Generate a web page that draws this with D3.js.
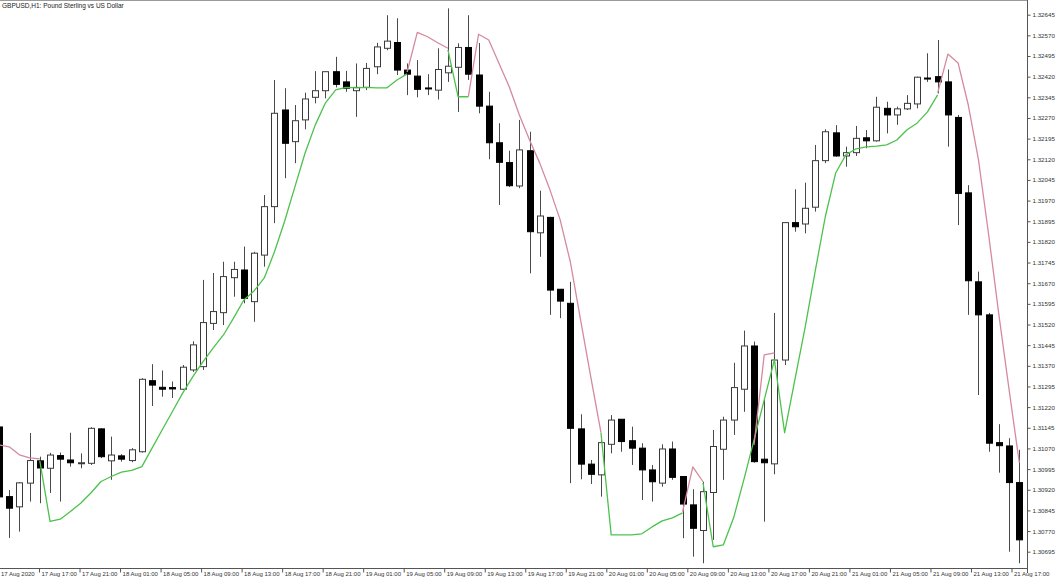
<!DOCTYPE html>
<html>
<head>
<meta charset="utf-8">
<script src="https://cdn.jsdelivr.net/npm/d3@7"></script>
<style>
  html, body { margin: 0; padding: 0; background: #fff; }
  svg { display: block; }
  text { font-family: "Liberation Sans", Arial, sans-serif; }
</style>
</head>
<body>
<svg id="chart" width="1060" height="583"></svg>
<script>
// ---- DATA (GBPUSD H1, 17 Aug 2020 13:00 .. 21 Aug 2020 17:00) ----
const title = "GBPUSD,H1:  Pound Sterling vs US Dollar";

const opens = [
  1.31148,1.30895,1.30858,1.30944,1.31025,1.30998,1.31044,1.31028,1.31016,1.31016,
  1.31141,1.31025,1.31043,1.31026,1.31058,1.31316,1.31292,1.31291,1.31285,1.31355,
  1.31367,1.31524,1.31563,1.31690,1.31718,1.31603,1.31772,1.31948,1.32299,1.32184,
  1.32263,1.32345,1.32369,1.32438,1.32401,1.32369,1.32381,1.32456,1.32523,1.32544,
  1.32444,1.32422,1.32379,1.32371,1.32434,1.32454,1.32526,1.32426,1.32313,1.32180,
  1.32108,1.32023,1.32151,1.31853,1.31909,1.31648,1.31597,1.31141,1.31013,1.30974,
  1.31085,1.31176,1.31098,1.31071,1.30992,1.30944,1.31068,1.30968,1.30865,1.30772,
  1.30910,1.31067,1.31173,1.31285,1.31442,1.31031,1.31014,1.31391,1.31890,1.31885,
  1.31946,1.32115,1.32216,1.32132,1.32144,1.32198,1.32187,1.32305,1.32281,1.32303,
  1.32321,1.32415,1.32420,1.32401,1.32272,1.31998,1.31675,1.31555,1.31091,1.31079,
  1.30946
];
const highs = [
  1.31174,1.30919,1.30948,1.31126,1.31040,1.31054,1.31055,1.31127,1.31052,1.31147,
  1.31143,1.31113,1.31049,1.31071,1.31325,1.31376,1.31353,1.31313,1.31373,1.31459,
  1.31682,1.31707,1.31748,1.31748,1.31803,1.31784,1.31990,1.32408,1.32378,1.32317,
  1.32362,1.32440,1.32440,1.32492,1.32441,1.32468,1.32470,1.32543,1.32643,1.32632,
  1.32468,1.32480,1.32429,1.32523,1.32668,1.32541,1.32643,1.32542,1.32365,1.32251,
  1.32151,1.32263,1.32220,1.32006,1.31911,1.31648,1.31675,1.31194,1.31028,1.31113,
  1.31191,1.31176,1.31149,1.31089,1.31010,1.31085,1.31095,1.30968,1.30922,1.30949,
  1.31137,1.31185,1.31381,1.31498,1.31458,1.31246,1.31562,1.31892,1.32011,1.32035,
  1.32172,1.32229,1.32244,1.32166,1.32241,1.32226,1.32347,1.32329,1.32311,1.32353,
  1.32420,1.32505,1.32553,1.32446,1.32281,1.32026,1.31712,1.31562,1.31158,1.31107,
  1.31065
];
const lows = [
  1.30738,1.30745,1.30768,1.30877,1.30871,1.30908,1.30877,1.31004,1.30998,1.31010,
  1.31035,1.30956,1.31022,1.31020,1.31055,1.31224,1.31258,1.31253,1.31283,1.31348,
  1.31355,1.31500,1.31518,1.31621,1.31597,1.31530,1.31730,1.31888,1.32051,1.32106,
  1.32229,1.32323,1.32341,1.32381,1.32365,1.32274,1.32371,1.32429,1.32516,1.32426,
  1.32353,1.32345,1.32353,1.32337,1.32401,1.32292,1.32408,1.32287,1.32120,1.31954,
  1.32019,1.32015,1.31706,1.31766,1.31555,1.31543,1.30944,1.30958,1.30941,1.30895,
  1.31052,1.31058,1.31010,1.30883,1.30877,1.30931,1.30956,1.30744,1.30677,1.30653,
  1.30738,1.30956,1.31119,1.31203,1.31018,1.30804,1.30976,1.31373,1.31857,1.31851,
  1.31930,1.32106,1.32129,1.32093,1.32132,1.32160,1.32184,1.32214,1.32245,1.32299,
  1.32305,1.32401,1.32359,1.32166,1.31881,1.31555,1.31264,1.31058,1.30982,1.30695,
  1.30653
];
const closes = [
  1.30894,1.30853,1.30945,1.31026,1.30999,1.31046,1.31031,1.31018,1.31018,1.31143,
  1.31040,1.31046,1.31031,1.31065,1.31321,1.31300,1.31285,1.31286,1.31365,1.31446,
  1.31527,1.31567,1.31694,1.31720,1.31615,1.31779,1.31948,1.32287,1.32178,1.32260,
  1.32339,1.32369,1.32438,1.32392,1.32378,1.32381,1.32450,1.32528,1.32549,1.32444,
  1.32429,1.32374,1.32376,1.32446,1.32458,1.32526,1.32429,1.32313,1.32180,1.32109,
  1.32024,1.32154,1.31857,1.31914,1.31645,1.31605,1.31143,1.31013,1.30976,1.31091,
  1.31173,1.31095,1.31071,1.30992,1.30949,1.31068,1.30965,1.30868,1.30780,1.30913,
  1.31077,1.31173,1.31291,1.31442,1.31022,1.31018,1.31391,1.31890,1.31875,1.31942,
  1.32115,1.32220,1.32132,1.32144,1.32196,1.32187,1.32309,1.32281,1.32303,1.32323,
  1.32418,1.32414,1.32401,1.32281,1.31996,1.31679,1.31555,1.31089,1.31080,1.30946,
  1.30738
];

// trend indicator: support (green) and resistance (pink) buffers
const supportLine = [
  null,null,null,null,1.31025,1.30805,1.30813,1.30841,1.30871,1.30908,
  1.30950,1.30968,1.30984,1.30990,1.31004,1.31071,1.31138,1.31204,1.31271,1.31331,
  1.31385,1.31435,1.31482,1.31544,1.31609,1.31642,1.31689,1.31784,1.31896,1.32020,
  1.32143,1.32245,1.32325,1.32372,1.32381,1.32379,1.32381,1.32379,1.32379,1.32408,
  1.32430,null,null,null,1.32517,1.32347,1.32347,null,null,null,
  null,null,null,null,null,null,null,null,null,1.31127,
  1.30756,1.30756,1.30756,1.30760,1.30785,1.30807,1.30818,1.30836,null,1.30945,
  1.30713,1.30720,1.30818,1.30956,1.31101,1.31246,1.31392,1.31127,1.31319,1.31508,
  1.31715,1.31914,1.32070,1.32136,1.32158,1.32165,1.32168,1.32172,1.32190,1.32227,
  1.32252,1.32292,1.32354,null,null,null,null,null,null,null,
  null
];
const resistanceLine = [
  1.31083,1.31076,1.31047,1.31036,1.31032,null,null,null,null,null,
  null,null,null,null,null,null,null,null,null,null,
  null,null,null,null,null,null,null,null,null,null,
  null,null,null,null,null,null,null,null,null,null,
  1.32437,1.32581,1.32565,1.32543,1.32523,null,1.32347,1.32574,1.32553,1.32469,
  1.32384,1.32281,1.32190,1.32106,1.32009,1.31900,1.31747,1.31537,1.31330,1.31127,
  null,null,null,null,null,null,null,1.30840,1.31003,1.30949,
  null,null,null,null,1.31083,1.31410,1.31417,null,null,null,
  null,null,null,null,null,null,null,null,null,null,
  null,null,1.32361,1.32502,1.32470,1.32317,1.32118,1.31845,1.31555,1.31283,
  1.31018
];

const yTickLabels = [
  "1.30695","1.30770","1.30845","1.30920","1.30995","1.31070","1.31145","1.31220","1.31295",
  "1.31370","1.31445","1.31520","1.31595","1.31670","1.31745","1.31820","1.31895","1.31970",
  "1.32045","1.32120","1.32195","1.32270","1.32345","1.32420","1.32495","1.32570","1.32645"
];
const xTickLabels = [
  "17 Aug 2020","17 Aug 17:00","17 Aug 21:00","18 Aug 01:00","18 Aug 05:00","18 Aug 09:00",
  "18 Aug 13:00","18 Aug 17:00","18 Aug 21:00","19 Aug 01:00","19 Aug 05:00","19 Aug 09:00",
  "19 Aug 13:00","19 Aug 17:00","19 Aug 21:00","20 Aug 01:00","20 Aug 05:00","20 Aug 09:00",
  "20 Aug 13:00","20 Aug 17:00","20 Aug 21:00","21 Aug 01:00","21 Aug 05:00","21 Aug 09:00",
  "21 Aug 13:00","21 Aug 17:00"
];
const xTickBars = [0,4,8,12,16,20,24,28,32,36,40,44,48,52,56,60,64,68,72,76,80,84,88,92,96,100];

// ---- LAYOUT ----
const svg = d3.select("#chart");
const plotRight = 1027, plotBottom = 568;

const x = d3.scaleLinear().domain([0, opens.length - 1]).range([-1, 1019.3]);
const xTime = d3.scaleLinear().domain([0, 100]).range([-1.5, 1011.5]);
const y = d3.scaleLinear().domain([1.30695, 1.32645]).range([551.7, 14.7]);

svg.append("defs").append("clipPath").attr("id", "plotclip")
  .append("rect").attr("x", 0).attr("y", 1).attr("width", plotRight).attr("height", plotBottom - 1);

// frame top line
svg.append("line").attr("x1", 0).attr("x2", plotRight).attr("y1", 0.5).attr("y2", 0.5)
  .attr("stroke", "#9a9a9a").attr("stroke-width", 1);

const plot = svg.append("g").attr("clip-path", "url(#plotclip)");

const idx = d3.range(opens.length);
const bodyW = 6;

// wicks
plot.append("g").selectAll("line").data(idx).join("line")
  .attr("x1", i => Math.round(x(i)) + 0.5)
  .attr("x2", i => Math.round(x(i)) + 0.5)
  .attr("y1", i => y(highs[i]))
  .attr("y2", i => y(lows[i]))
  .attr("stroke", "#4a4a4a").attr("stroke-width", 1);

// bodies
plot.append("g").selectAll("rect").data(idx).join("rect")
  .attr("x", i => Math.round(x(i)) - bodyW / 2 + 0.5)
  .attr("y", i => y(Math.max(opens[i], closes[i])))
  .attr("width", bodyW)
  .attr("height", i => Math.max(1, Math.abs(y(opens[i]) - y(closes[i]))))
  .attr("fill", i => closes[i] >= opens[i] ? "#ffffff" : "#000000")
  .attr("stroke", i => closes[i] >= opens[i] ? "#3a3a3a" : "#000000")
  .attr("stroke-width", 1);

// indicator lines
const line = d3.line()
  .defined(d => d.v !== null)
  .x(d => x(d.i))
  .y(d => y(d.v));

plot.append("path")
  .datum(idx.map(i => ({ i, v: supportLine[i] })))
  .attr("d", line).attr("fill", "none")
  .attr("stroke", "#4cc24c").attr("stroke-width", 1.3)
  .attr("stroke-linejoin", "round");

plot.append("path")
  .datum(idx.map(i => ({ i, v: resistanceLine[i] })))
  .attr("d", line).attr("fill", "none")
  .attr("stroke", "#d48a9c").attr("stroke-width", 1.3)
  .attr("stroke-linejoin", "round");

// title
svg.append("text").attr("x", 2).attr("y", 8)
  .attr("font-size", 6.5).attr("fill", "#222").text(title);

// right price axis
const yAxis = d3.axisRight(y)
  .tickValues(yTickLabels.map(Number))
  .tickFormat((d, i) => yTickLabels[i])
  .tickSize(3).tickPadding(2);
const gy = svg.append("g").attr("transform", `translate(${plotRight + 0.5},0)`).call(yAxis);
gy.select(".domain").attr("d", `M0,0V${plotBottom + 5}`).attr("stroke", "#555");
gy.selectAll(".tick line").attr("stroke", "#555");
gy.selectAll(".tick text").attr("font-size", 6.2).attr("fill", "#333")
  .attr("font-family", "Liberation Sans, Arial, sans-serif");

// bottom time axis
const xAxis = d3.axisBottom(xTime)
  .tickValues(xTickBars)
  .tickFormat((d, i) => xTickLabels[i])
  .tickSize(4).tickSizeOuter(0);
const gx = svg.append("g").attr("transform", `translate(0,${plotBottom + 0.5})`).call(xAxis);
gx.select(".domain").attr("d", `M0,0H${plotRight}`).attr("stroke", "#555");
gx.selectAll(".tick line").attr("stroke", "#555");
gx.selectAll(".tick text")
  .attr("text-anchor", "start").attr("x", 2).attr("y", 3).attr("dy", "0.71em")
  .attr("font-size", 6).attr("fill", "#333")
  .attr("font-family", "Liberation Sans, Arial, sans-serif");
</script>
</body>
</html>
